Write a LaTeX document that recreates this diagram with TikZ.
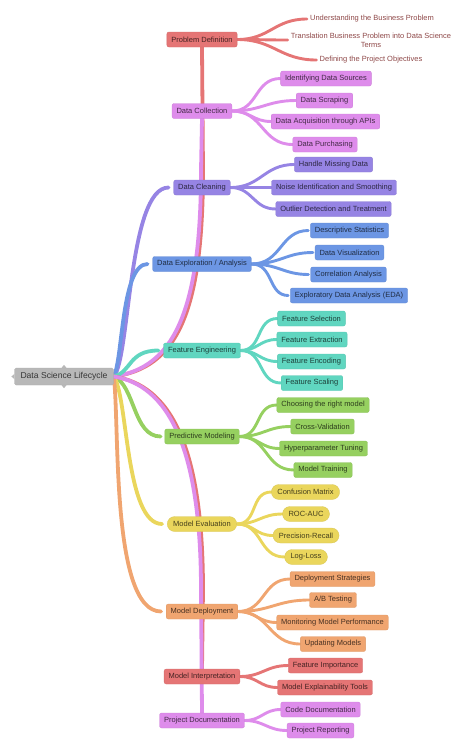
\documentclass[tikz,border=0pt]{standalone}
\usepackage{fontspec}
\setmainfont{Liberation Sans}
\usetikzlibrary{backgrounds}
\definecolor{lcroot}{RGB}{184,184,184}
\definecolor{lcred}{RGB}{229,117,117}
\definecolor{lcviolet}{RGB}{222,140,235}
\definecolor{lcpurple}{RGB}{150,132,228}
\definecolor{lcblue}{RGB}{108,150,228}
\definecolor{lcteal}{RGB}{96,214,192}
\definecolor{lcgreen}{RGB}{150,208,96}
\definecolor{lcyellow}{RGB}{234,214,92}
\definecolor{lcorange}{RGB}{240,165,112}

\begin{document}
\begin{tikzpicture}[x=1pt,y=1pt]
        \tikzset{box node/.style={fill=#1, draw=#1!92!black, line width=0.3pt, text=#1!30!black, rounded corners=2pt, minimum height=15pt, inner xsep=4.5pt, inner ysep=0pt, font=\fontsize{7.5}{9}\selectfont},
          pill node/.style={box node=#1, rounded corners=7.5pt, inner xsep=6pt},
          text node/.style={text=#1!62!black, align=center, inner sep=3pt, font=\fontsize{7.5}{9}\selectfont},
          branch/.style={draw=#1, line width=3.8pt, line cap=round},
          twig/.style={draw=#1, line width=2.9pt, line cap=round, looseness=1.15}}
        \useasboundingbox (0,0) rectangle (474,-756);
        % root
        \node[box node=lcroot, minimum height=17pt, inner xsep=6pt, rounded corners=1.5pt, font=\fontsize{8.6}{10}\selectfont] (lifecycle) at (64,-376.5) {Data Science Lifecycle};
        \fill[lcroot] (lifecycle.north) ++(-2.5,0) -- ++(2.5,3) -- ++(2.5,-3) -- cycle;
        \fill[lcroot] (lifecycle.south) ++(-2.5,0) -- ++(2.5,-3) -- ++(2.5,3) -- cycle;
        \fill[lcroot] (lifecycle.west) ++(0,-2.5) -- ++(-3,2.5) -- ++(3,2.5) -- cycle;
        % main steps
        \node[box node=lcred] (problem) at (202,-39.5) {Problem Definition};
        \node[box node=lcviolet] (collection) at (202,-111) {Data Collection};
        \node[box node=lcpurple] (cleaning) at (202,-187.5) {Data Cleaning};
        \node[box node=lcblue] (exploration) at (202,-264) {Data Exploration / Analysis};
        \node[box node=lcteal] (engineering) at (202,-350.5) {Feature Engineering};
        \node[box node=lcgreen] (modeling) at (202,-436.5) {Predictive Modeling};
        \node[pill node=lcyellow] (evaluation) at (202,-524) {Model Evaluation};
        \node[box node=lcorange] (deployment) at (202,-611.5) {Model Deployment};
        \node[box node=lcred] (interpretation) at (202,-676.5) {Model Interpretation};
        \node[box node=lcviolet] (documentation) at (202,-720.5) {Project Documentation};
        % problem definition
        \node[text node=lcred] (problem1) at (372,-19) {Understanding the Business Problem};
        \node[text node=lcred] (problem2) at (371,-40) {Translation Business Problem into Data Science\\Terms};
        \node[text node=lcred] (problem3) at (371,-60) {Defining the Project Objectives};
        % data collection
        \node[box node=lcviolet] (collection1) at (326,-78.5) {Identifying Data Sources};
        \node[box node=lcviolet] (collection2) at (324.5,-100.5) {Data Scraping};
        \node[box node=lcviolet] (collection3) at (325.5,-121.5) {Data Acquisition through APIs};
        \node[box node=lcviolet] (collection4) at (325,-144.5) {Data Purchasing};
        % data cleaning
        \node[box node=lcpurple] (cleaning1) at (333.5,-164.5) {Handle Missing Data};
        \node[box node=lcpurple] (cleaning2) at (334,-187.5) {Noise Identification and Smoothing};
        \node[box node=lcpurple] (cleaning3) at (333.5,-209) {Outlier Detection and Treatment};
        % exploration
        \node[box node=lcblue] (exploration1) at (349.5,-230.5) {Descriptive Statistics};
        \node[box node=lcblue] (exploration2) at (349.5,-252.5) {Data Visualization};
        \node[box node=lcblue] (exploration3) at (348.5,-274.5) {Correlation Analysis};
        \node[box node=lcblue] (exploration4) at (349,-295.5) {Exploratory Data Analysis (EDA)};
        % feature engineering
        \node[box node=lcteal] (engineering1) at (311.5,-318.5) {Feature Selection};
        \node[box node=lcteal] (engineering2) at (312,-339.5) {Feature Extraction};
        \node[box node=lcteal] (engineering3) at (311.5,-361.5) {Feature Encoding};
        \node[box node=lcteal] (engineering4) at (312,-383) {Feature Scaling};
        % predictive modeling
        \node[box node=lcgreen] (modeling1) at (323,-405) {Choosing the right model};
        \node[box node=lcgreen] (modeling2) at (322.5,-426.5) {Cross-Validation};
        \node[box node=lcgreen] (modeling3) at (323.5,-448.5) {Hyperparameter Tuning};
        \node[box node=lcgreen] (modeling4) at (323,-470) {Model Training};
        % evaluation
        \node[pill node=lcyellow] (evaluation1) at (305.5,-492) {Confusion Matrix};
        \node[pill node=lcyellow] (evaluation2) at (306,-514) {ROC-AUC};
        \node[pill node=lcyellow] (evaluation3) at (306,-535.5) {Precision-Recall};
        \node[pill node=lcyellow] (evaluation4) at (306,-557) {Log-Loss};
        % deployment
        \node[box node=lcorange] (deployment1) at (332.5,-579) {Deployment Strategies};
        \node[box node=lcorange] (deployment2) at (333,-600) {A/B Testing};
        \node[box node=lcorange] (deployment3) at (332.5,-622.5) {Monitoring Model Performance};
        \node[box node=lcorange] (deployment4) at (333,-644) {Updating Models};
        % interpretation and documentation
        \node[box node=lcred] (interpretation1) at (325.5,-665.5) {Feature Importance};
        \node[box node=lcred] (interpretation2) at (325,-687.5) {Model Explainability Tools};
        \node[box node=lcviolet] (documentation1) at (320.5,-709.5) {Code Documentation};
        \node[box node=lcviolet] (documentation2) at (320.5,-730.5) {Project Reporting};
        \begin{scope}[on background layer]
          \draw[branch=lcred] (lifecycle.east) .. controls (176,-368) and (203,-315) .. (203,-170) -- (problem.south);
          \draw[branch=lcviolet] (lifecycle.east) .. controls (172,-368) and (201,-315) .. (201,-170) -- (collection.south);
          \draw[branch=lcpurple, shorten >=5pt] (lifecycle.east) .. controls (130,-360) and (128,-187.5) .. (cleaning.west);
          \draw[branch=lcblue, shorten >=5pt] (lifecycle.east) .. controls (123,-360) and (121,-264) .. (exploration.west);
          \draw[branch=lcteal, shorten >=5pt] (lifecycle.east) .. controls (132,-372) and (128,-350.5) .. (engineering.west);
          \draw[branch=lcgreen, shorten >=4pt] (lifecycle.east) .. controls (135,-385) and (133,-436.5) .. (modeling.west);
          \draw[branch=lcyellow, shorten >=5pt] (lifecycle.east) .. controls (128,-395) and (125,-524) .. (evaluation.west);
          \draw[branch=lcorange, shorten >=5pt] (lifecycle.east) .. controls (120,-420) and (110,-611.5) .. (deployment.west);
          \draw[branch=lcred] (lifecycle.east) .. controls (170,-385) and (203,-445) .. (203,-590) -- (interpretation.north);
          \draw[branch=lcviolet] (lifecycle.east) .. controls (167,-385) and (201,-445) .. (201,-590) -- (documentation.north);
          % second level
          \foreach \c in {1,2,3} \draw[twig=lcred] (problem.east) to[out=0,in=180] (problem\c.west);
          \foreach \c in {1,...,4} \draw[twig=lcviolet] (collection.east) to[out=0,in=180] (collection\c.west);
          \foreach \c in {1,2,3} \draw[twig=lcpurple] (cleaning.east) to[out=0,in=180] (cleaning\c.west);
          \foreach \c in {1,...,4} \draw[twig=lcblue, shorten >=2pt] (exploration.east) to[out=0,in=180] (exploration\c.west);
          \foreach \c in {1,...,4} \draw[twig=lcteal] (engineering.east) to[out=0,in=180] (engineering\c.west);
          \foreach \c in {1,...,4} \draw[twig=lcgreen] (modeling.east) to[out=0,in=180] (modeling\c.west);
          \foreach \c in {1,...,4} \draw[twig=lcyellow] (evaluation.east) to[out=0,in=180] (evaluation\c.west);
          \foreach \c in {1,...,4} \draw[twig=lcorange] (deployment.east) to[out=0,in=180] (deployment\c.west);
          \foreach \c in {1,2} \draw[twig=lcred] (interpretation.east) to[out=0,in=180] (interpretation\c.west);
          \foreach \c in {1,2} \draw[twig=lcviolet] (documentation.east) to[out=0,in=180] (documentation\c.west);
        \end{scope}
      \end{tikzpicture}
\end{document}
